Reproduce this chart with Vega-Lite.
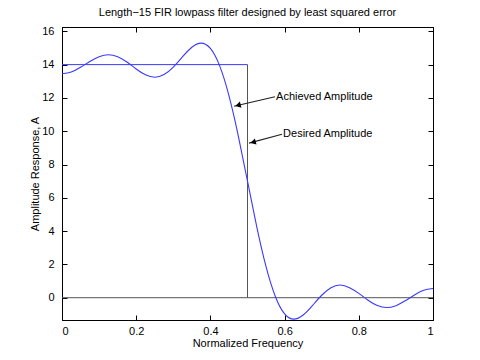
{
  "$schema": "https://vega.github.io/schema/vega-lite/v6.json",
  "width": 371,
  "height": 293,
  "autosize": {"type": "none"},
  "padding": {"left": 62, "top": 27, "right": 47, "bottom": 40},
  "background": "white",
  "title": {"text": "Length\u221215 FIR lowpass filter designed by least squared error", "font": "Liberation Sans", "fontSize": 11, "fontWeight": "normal", "color": "black", "anchor": "middle", "offset": 7},
  "config": {
    "view": {"stroke": "black", "strokeWidth": 1},
    "axis": {"domainColor": "black", "tickColor": "black", "labelColor": "black", "titleColor": "black", "labelFont": "Liberation Sans", "titleFont": "Liberation Sans", "labelFontSize": 11, "titleFontSize": 11, "titleFontWeight": "normal", "grid": false, "tickSize": -5, "labelPadding": 8}
  },
  "datasets": {
    "curve": [
      {"f": 0, "A": 13.451}, {"f": 0.025, "A": 13.558}, {"f": 0.05, "A": 13.838}, {"f": 0.075, "A": 14.189},
      {"f": 0.1, "A": 14.479}, {"f": 0.125, "A": 14.592}, {"f": 0.15, "A": 14.474}, {"f": 0.175, "A": 14.154},
      {"f": 0.2, "A": 13.740}, {"f": 0.225, "A": 13.386}, {"f": 0.25, "A": 13.242}, {"f": 0.275, "A": 13.401},
      {"f": 0.3, "A": 13.853}, {"f": 0.325, "A": 14.474}, {"f": 0.35, "A": 15.042}, {"f": 0.375, "A": 15.290},
      {"f": 0.4, "A": 14.970}, {"f": 0.425, "A": 13.926}, {"f": 0.45, "A": 12.138}, {"f": 0.475, "A": 9.740},
      {"f": 0.5, "A": 7.0}, {"f": 0.525, "A": 4.260}, {"f": 0.55, "A": 1.862}, {"f": 0.575, "A": 0.074},
      {"f": 0.6, "A": -0.970}, {"f": 0.625, "A": -1.290}, {"f": 0.65, "A": -1.042}, {"f": 0.675, "A": -0.474},
      {"f": 0.7, "A": 0.147}, {"f": 0.725, "A": 0.599}, {"f": 0.75, "A": 0.758}, {"f": 0.775, "A": 0.599},
      {"f": 0.8, "A": 0.260}, {"f": 0.825, "A": -0.154}, {"f": 0.85, "A": -0.474}, {"f": 0.875, "A": -0.592},
      {"f": 0.9, "A": -0.479}, {"f": 0.925, "A": -0.189}, {"f": 0.95, "A": 0.162}, {"f": 0.975, "A": 0.442},
      {"f": 1.0, "A": 0.549}
    ],
    "desiredTop": [{"f": 0, "f2": 0.5, "A": 14, "A2": 14}],
    "grayLines": [{"f": 0.5, "f2": 0.5, "A": 0, "A2": 14}, {"f": 0, "f2": 1, "A": 0, "A2": 0}],
    "arrows": [
      {"label": "Achieved Amplitude", "tf": 0.577, "tA": 12.07, "f": 0.574, "A": 12.07, "f2": 0.4636, "A2": 11.50, "hf": 0.4744, "hA": 11.56, "ang": 345.6},
      {"label": "Desired Amplitude", "tf": 0.596, "tA": 9.82, "f": 0.593, "A": 9.82, "f2": 0.504, "A2": 9.28, "hf": 0.515, "hA": 9.34, "ang": 344.3}
    ]
  },
  "resolve": {"axis": {"x": "independent", "y": "independent"}},
  "layer": [
    {
      "data": {"name": "grayLines"},
      "mark": {"type": "rule", "color": "#555555", "strokeWidth": 1},
      "encoding": {
        "x": {"field": "f", "type": "quantitative", "scale": {"domain": [0, 1], "nice": false, "zero": false},
              "axis": {"orient": "bottom", "values": [0, 0.2, 0.4, 0.6, 0.8, 1], "format": ".1~f", "title": "Normalized Frequency", "labelPadding": 10, "titlePadding": 1}},
        "x2": {"field": "f2"},
        "y": {"field": "A", "type": "quantitative", "scale": {"domain": [-1.34, 16.26], "nice": false, "zero": false},
              "axis": {"orient": "left", "values": [0, 2, 4, 6, 8, 10, 12, 14, 16], "title": "Amplitude Response, A", "labelPadding": 13, "titlePadding": 1}},
        "y2": {"field": "A2"}
      }
    },
    {
      "data": {"name": "desiredTop"},
      "mark": {"type": "rule", "color": "#3a3aff", "strokeWidth": 1},
      "encoding": {
        "x": {"field": "f", "type": "quantitative", "axis": {"orient": "top", "values": [0, 0.2, 0.4, 0.6, 0.8, 1], "labels": false, "title": null}},
        "x2": {"field": "f2"},
        "y": {"field": "A", "type": "quantitative", "axis": {"orient": "right", "values": [0, 2, 4, 6, 8, 10, 12, 14, 16], "labels": false, "title": null}},
        "y2": {"field": "A2"}
      }
    },
    {
      "data": {"name": "curve"},
      "mark": {"type": "line", "color": "#3a3aff", "strokeWidth": 1.1, "interpolate": "natural", "clip": true},
      "encoding": {
        "x": {"field": "f", "type": "quantitative", "axis": null},
        "y": {"field": "A", "type": "quantitative", "axis": null}
      }
    },
    {
      "data": {"name": "arrows"},
      "mark": {"type": "rule", "color": "#222222", "strokeWidth": 1.2},
      "encoding": {
        "x": {"field": "f", "type": "quantitative", "axis": null},
        "x2": {"field": "f2"},
        "y": {"field": "A", "type": "quantitative", "axis": null},
        "y2": {"field": "A2"}
      }
    },
    {
      "data": {"name": "arrows"},
      "mark": {"type": "point", "shape": "triangle-left", "filled": true, "color": "black", "size": 40, "opacity": 1},
      "encoding": {
        "x": {"field": "hf", "type": "quantitative", "axis": null},
        "y": {"field": "hA", "type": "quantitative", "axis": null},
        "angle": {"field": "ang", "type": "quantitative", "scale": null}
      }
    },
    {
      "data": {"name": "arrows"},
      "mark": {"type": "text", "align": "left", "baseline": "middle", "font": "Liberation Sans", "fontSize": 11, "color": "black"},
      "encoding": {
        "x": {"field": "tf", "type": "quantitative", "axis": null},
        "y": {"field": "tA", "type": "quantitative", "axis": null},
        "text": {"field": "label"}
      }
    }
  ]
}
